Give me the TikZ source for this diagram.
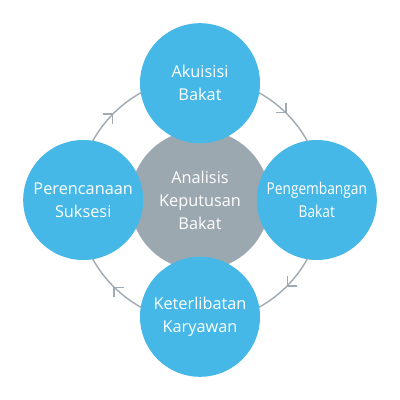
\documentclass[tikz,border=0pt]{standalone}
\usepackage{fontspec}
\setmainfont{Open Sans}
\newfontfamily\strettofont[FakeStretch=0.84]{Open Sans}
\usetikzlibrary{arrows.meta,decorations.markings}

\definecolor{azzurro}{HTML}{45B8E8}
\definecolor{grigio}{HTML}{9CA8B0}
\definecolor{anello}{HTML}{A0AAB2}

\tikzset{
  fase/.style={circle, fill=azzurro, text=white, minimum size=3cm, inner sep=0pt,
    align=center, font=\fontsize{11.6}{16.4}\selectfont},
  nucleo/.style={fase, fill=grigio, minimum size=3.5cm},
  ciclo/.style={draw=anello, line width=1pt, postaction={decorate},
    decoration={markings,
      mark=at position 0.125 with {\arrow[anello, line width=1pt]{Straight Barb[length=5pt,width=10pt]}},
      mark=at position 0.375 with {\arrow[anello, line width=1pt]{Straight Barb[length=5pt,width=10pt]}},
      mark=at position 0.625 with {\arrow[anello, line width=1pt]{Straight Barb[length=5pt,width=10pt]}},
      mark=at position 0.875 with {\arrow[anello, line width=1pt]{Straight Barb[length=5pt,width=10pt]}}}}
}

\begin{document}
\begin{tikzpicture}
\useasboundingbox (-5,-5) rectangle (5,5);

%anello
\coordinate (centro) at (0,0);
\draw[ciclo] (0,3.06) arc[start angle=90, end angle=-270, radius=3.06];

%cerchi
\node[nucleo] (analisis) at (centro) {Analisis\\Keputusan\\Bakat};
\node[fase] (akuisisi) at (0,2.92) {Akuisisi\\Bakat};
\node[fase] (pengembangan) at (2.92,0) {\strettofont Pengembangan\\\strettofont Bakat};
\node[fase] (keterlibatan) at (0,-2.92) {Keterlibatan\\Karyawan};
\node[fase] (perencanaan) at (-2.92,0) {Perencanaan\\Suksesi};

\end{tikzpicture}
\end{document}
